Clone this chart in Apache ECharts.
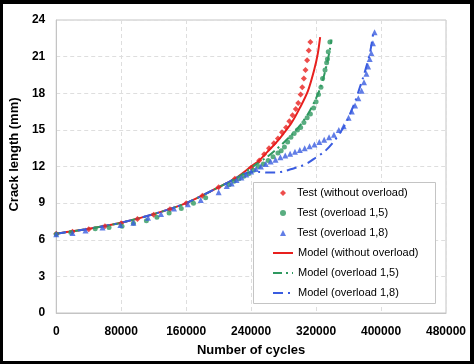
<!DOCTYPE html>
<html><head><meta charset="utf-8">
<script src="https://cdn.jsdelivr.net/npm/echarts@6/dist/echarts.min.js"></script>
<style>
html,body{margin:0;padding:0;background:#fff;}
#c{position:absolute;left:0;top:0;width:474px;height:364px;}
#frame{position:absolute;left:0;top:0;width:474px;height:364px;box-sizing:border-box;border:solid #000;border-width:4px 4px 3px 3px;pointer-events:none;}
</style></head>
<body><div id="c"></div><div id="frame"></div>
<script>
const xTicks = [0, 80000, 160000, 240000, 320000, 400000, 480000];
const yTicks = [0, 3, 6, 9, 12, 15, 18, 21, 24];
const testNames = ['Test (without overload)','Test (overload 1,5)','Test (overload 1,8)'];
const modelNames = ['Model (without overload)','Model (overload 1,5)','Model (overload 1,8)'];

const testNoOverload = [[0,6.5],[20000,6.65],[40000,6.85],[60000,7.1],[80000,7.35],[100000,7.7],[120000,8.05],[140000,8.5],[160000,9.0],[180000,9.6],[200000,10.3],[220000,11.0],[240000,11.9],[250000,12.5],[256000,13.0],[262000,13.5],[268000,13.9],[273000,14.3],[278000,14.8],[283000,15.2],[287000,15.7],[291000,16.2],[295000,16.7],[298000,17.2],[301000,17.9],[303000,18.5],[305000,19.2],[307000,19.9],[309000,20.7],[311000,21.5],[313000,22.2]];
const testOverload15 = [[0,6.45],[18000,6.6],[48000,6.9],[65000,7.0],[81000,7.1],[95000,7.35],[111000,7.55],[124000,7.85],[139000,8.2],[154000,8.55],[169000,9.0],[184000,9.45],[213000,10.5],[219000,10.8],[225000,11.0],[231000,11.2],[237000,11.4],[243000,11.7],[249000,12.0],[255000,12.2],[261000,12.5],[267000,12.8],[273000,13.1],[277000,13.3],[281000,13.6],[285000,14.0],[289000,14.4],[293000,14.7],[297000,15.0],[301000,15.2],[305000,15.6],[309000,16.0],[313000,16.3],[317000,16.8],[320000,17.3],[323000,17.9],[326000,18.5],[328000,19.2],[331000,19.9],[333000,20.5],[334000,20.8],[335000,21.4],[337000,22.2]];
const testOverload18 = [[0,6.45],[20000,6.55],[36000,6.75],[57000,7.0],[79000,7.2],[95000,7.4],[113000,7.8],[129000,8.1],[145000,8.55],[162000,8.9],[178000,9.25],[200000,9.9],[210000,10.4],[216000,10.6],[222000,10.9],[228000,11.1],[234000,11.35],[240000,11.6],[246000,11.8],[252000,12.0],[258000,12.2],[264000,12.4],[270000,12.55],[276000,12.75],[282000,12.9],[288000,13.05],[294000,13.2],[300000,13.35],[306000,13.5],[312000,13.65],[318000,13.8],[324000,14.0],[330000,14.2],[336000,14.4],[342000,14.6],[348000,15.0],[354000,15.3],[360000,16.0],[364000,16.5],[368000,17.0],[372000,17.6],[376000,18.2],[379000,18.9],[382000,19.6],[384000,20.2],[386000,20.8],[388000,21.3],[390000,22.1],[392000,23.0]];

const modelNoOverload = [[0,6.5],[40000,6.9],[80000,7.4],[120000,8.1],[160000,9.0],[200000,10.3],[220000,11.0],[240000,12.0],[250000,12.5],[260000,13.2],[270000,13.9],[280000,14.7],[290000,15.6],[300000,16.8],[310000,18.2],[318000,20.0],[322000,21.2],[325000,22.6]];
const modelOverload15 = [[0,6.5],[40000,6.9],[80000,7.4],[120000,8.1],[160000,9.0],[200000,10.3],[220000,11.0],[230000,11.4],[240000,11.9],[250000,12.35],[260000,12.8],[270000,13.35],[280000,13.95],[290000,14.6],[300000,15.35],[310000,16.3],[318000,17.3],[325000,18.4],[330000,19.5],[334000,20.6],[337000,21.6],[339000,22.4]];
const modelOverload18 = [[0,6.5],[40000,6.9],[80000,7.4],[120000,8.1],[160000,9.0],[200000,10.3],[220000,11.0],[230000,11.35],[240000,11.55],[250000,11.55],[260000,11.5],[270000,11.5],[280000,11.6],[290000,11.8],[300000,12.0],[310000,12.3],[320000,12.75],[330000,13.2],[340000,13.9],[350000,14.8],[357000,15.6],[363000,16.5],[368000,17.3],[373000,18.3],[378000,19.3],[382000,20.2],[386000,21.2],[389000,22.3],[391000,23.2]];

const RED='#e8201e', GREEN='#2f9960', BLUE='#3a5ce0';
const FONT='"Liberation Sans", Arial, sans-serif';
const legendText = {fontFamily:FONT,fontSize:11,color:'#000',lineHeight:14};

const chart = echarts.init(document.getElementById('c'), null, {renderer:'canvas'});
chart.setOption({
  animation:false,
  backgroundColor:'#fff',
  grid:{left:50,right:28,top:20,bottom:51,show:true,borderColor:'#c4c4c4',borderWidth:1,backgroundColor:'transparent'},
  xAxis:{type:'value',min:xTicks[0],max:xTicks[xTicks.length-1],interval:xTicks[1]-xTicks[0],
    name:'Number of cycles',nameLocation:'middle',nameGap:31,
    nameTextStyle:{fontFamily:FONT,fontWeight:'bold',fontSize:13,color:'#000'},
    axisLine:{lineStyle:{color:'#c4c4c4'}},axisTick:{show:false},
    axisLabel:{fontFamily:FONT,fontWeight:'bold',fontSize:12,color:'#000',margin:13,formatter:v=>String(v)},
    splitLine:{show:true,lineStyle:{type:[4,3],color:'#dedede'}}},
  yAxis:{type:'value',min:yTicks[0],max:yTicks[yTicks.length-1],interval:yTicks[1]-yTicks[0],
    name:'Crack length (mm)',nameLocation:'middle',nameGap:20,
    nameTextStyle:{fontFamily:FONT,fontWeight:'bold',fontSize:13,color:'#000',padding:[0,0,0,24]},
    axisLine:{show:true,lineStyle:{color:'#c4c4c4'}},axisTick:{show:false},
    axisLabel:{fontFamily:FONT,fontWeight:'bold',fontSize:12,color:'#000',margin:11,formatter:v=>String(v)},
    splitLine:{show:true,lineStyle:{type:[4,3],color:'#dedede'}}},
  graphic:[{type:'rect',z:50,shape:{x:253.5,y:182.5,width:182,height:121},style:{fill:'#fff',stroke:'#c4c4c4',lineWidth:1}}],
  legend:[
    {orient:'vertical',left:280,top:186,itemWidth:6,itemHeight:6,itemGap:6,padding:0,z:60,
      textStyle:Object.assign({padding:[0,0,0,6]},legendText),data:testNames},
    {orient:'vertical',left:272,top:246,itemWidth:20,itemHeight:6,itemGap:6,padding:0,z:60,
      itemStyle:{opacity:0},textStyle:legendText,data:modelNames}
  ],
  series:[
    {name:modelNames[0],type:'line',data:modelNoOverload,smooth:0.3,showSymbol:false,symbol:'none',lineStyle:{color:RED,width:2},itemStyle:{color:RED},z:2},
    {name:modelNames[1],type:'line',data:modelOverload15,smooth:0.3,showSymbol:false,symbol:'none',lineStyle:{color:GREEN,width:2,type:[9,4,2,4]},itemStyle:{color:GREEN},z:2},
    {name:modelNames[2],type:'line',data:modelOverload18,smooth:0.3,showSymbol:false,symbol:'none',lineStyle:{color:BLUE,width:2,type:[10,5,2,5]},itemStyle:{color:BLUE},z:2},
    {name:testNames[0],type:'scatter',data:testNoOverload,symbol:'diamond',symbolSize:6,itemStyle:{color:RED},z:3},
    {name:testNames[1],type:'scatter',data:testOverload15,symbol:'circle',symbolSize:5,itemStyle:{color:GREEN},z:3},
    {name:testNames[2],type:'scatter',data:testOverload18,symbol:'triangle',symbolSize:6,itemStyle:{color:BLUE},z:3}
  ]
});
</script></body></html>
